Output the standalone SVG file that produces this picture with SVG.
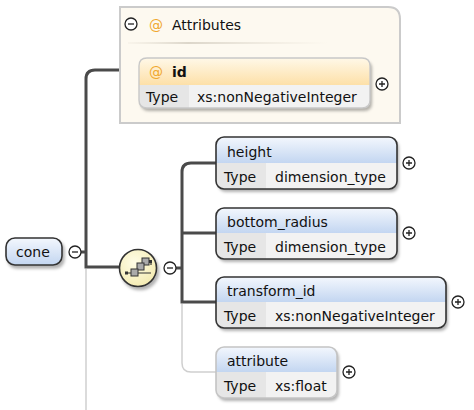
<svg xmlns="http://www.w3.org/2000/svg" width="474" height="410" viewBox="0 0 474 410">
<defs>
<linearGradient id="blue" x1="0" y1="0" x2="0" y2="1"><stop offset="0" stop-color="#f3f7fd"/><stop offset="1" stop-color="#c3d6f1"/></linearGradient>
<linearGradient id="orange" x1="0" y1="0" x2="0" y2="1"><stop offset="0" stop-color="#fff8e8"/><stop offset="1" stop-color="#fde0a8"/></linearGradient>
<linearGradient id="sep" x1="0" y1="0" x2="1" y2="0"><stop offset="0" stop-color="#e6e0d4" stop-opacity="0.2"/><stop offset="0.3" stop-color="#dcd6ca"/><stop offset="1" stop-color="#e6e0d4" stop-opacity="0"/></linearGradient>
<radialGradient id="seqg" cx="0.4" cy="0.35" r="0.7"><stop offset="0" stop-color="#fffde6"/><stop offset="1" stop-color="#f3eab0"/></radialGradient>
<filter id="sh" x="-10%" y="-10%" width="130%" height="140%"><feDropShadow dx="2" dy="3" stdDeviation="1.5" flood-color="#000" flood-opacity="0.3"/></filter>
</defs>
<style>
text{font-family:"DejaVu Sans","Liberation Sans",sans-serif;font-size:14px;fill:#111}
.at{fill:#f0a830}
.tcell{fill:#e6e6e6}
.el{stroke:#333;stroke-width:1.6}
.opt{stroke:#c4c4c4;stroke-width:1.6}
.btn{fill:#fff;stroke:#222;stroke-width:1.3}
.sign{stroke:#222;stroke-width:1.3;fill:none}
.con{fill:none;stroke:#4a4a4a;stroke-width:3}
.thin{fill:none;stroke:#cfcfcf;stroke-width:1.5}
</style>

<g id="connectors">
<path class="con" d="M81,252 H86"/>
<path class="con" d="M119,70 H95 Q86,70 86,79 V267 H120"/>
<path class="thin" d="M86,269 V410"/>
<path class="con" d="M176,268 H182"/>
<path class="con" d="M216,163 H191 Q182,163 182,172 V302 H216"/>
<path class="con" d="M182,233 H216"/>
<path class="thin" d="M182,304 V363 Q182,372 191,372 H216"/>
</g>

<g id="attributes">
<path d="M120,7 H388 Q400,7 400,19 V123 H120 Z" fill="#fdf9f0" stroke="#cbcbcb" stroke-width="2"/>
<circle class="btn" cx="131" cy="24" r="6"/><path class="sign" d="M128,24 H134"/>
<text class="at" x="149" y="30">@</text>
<text x="172" y="30">Attributes</text>
<rect x="128" y="42" width="200" height="2" fill="url(#sep)"/>
</g>

<g id="id">
<g filter="url(#sh)">
<path d="M139,66 Q139,58 147,58 H362 Q370,58 370,66 V100 Q370,108 362,108 H147 Q139,108 139,100 Z" fill="#f2f2f2"/>
</g>
<path d="M139,66 Q139,58 147,58 H362 Q370,58 370,66 V85 H139 Z" fill="url(#orange)"/>
<path d="M139,85 H189 V108 H147 Q139,108 139,100 Z" class="tcell"/>
<path d="M139,66 Q139,58 147,58 H362 Q370,58 370,66 V100 Q370,108 362,108 H147 Q139,108 139,100 Z" fill="none" stroke="#c8c8c8" stroke-width="1.4"/>
<text class="at" x="149" y="77">@</text>
<text x="172" y="77" font-weight="bold">id</text>
<text x="146" y="102">Type</text>
<text x="197" y="102">xs:nonNegativeInteger</text>
<circle class="btn" cx="382" cy="84" r="6"/><path class="sign" d="M379,84 H385 M382,81 V87"/>
</g>

<g id="cone">
<rect x="6" y="238" width="56" height="27" rx="9" fill="url(#blue)" class="el" filter="url(#sh)"/>
<text x="16" y="257">cone</text>
<circle class="btn" cx="75" cy="252" r="6"/><path class="sign" d="M72,252 H78"/>
</g>

<g id="sequence">
<circle cx="138" cy="268" r="18.5" fill="url(#seqg)" stroke="#333" stroke-width="1.6" filter="url(#sh)"/>
<path d="M126,273 H151 M151,263 V265" stroke="#333" stroke-width="1.2" fill="none"/>
<rect x="142" y="258" width="7" height="7" fill="#aaa" stroke="#333" stroke-width="1"/>
<rect x="137" y="263" width="7" height="7" fill="#aaa" stroke="#333" stroke-width="1"/>
<rect x="131" y="269" width="7" height="7" fill="#aaa" stroke="#333" stroke-width="1"/>
<rect x="125" y="271.5" width="3" height="3" fill="#333"/>
<rect x="149" y="260" width="3" height="3" fill="#333"/>
<circle class="btn" cx="170" cy="268" r="6"/><path class="sign" d="M167,268 H173"/>
</g>

<g id="height">
<rect x="216" y="137" width="181" height="52" rx="8" fill="#f2f2f2" filter="url(#sh)"/>
<path d="M216,145 Q216,137 224,137 H389 Q397,137 397,145 V163 H216 Z" fill="url(#blue)"/>
<path d="M216,163 H266 V189 H224 Q216,189 216,181 Z" class="tcell"/>
<rect x="216" y="137" width="181" height="52" rx="8" fill="none" class="el"/>
<text x="227" y="157">height</text>
<text x="224" y="182">Type</text>
<text x="275" y="182">dimension_type</text>
<circle class="btn" cx="409" cy="163" r="6"/><path class="sign" d="M406,163 H412 M409,160 V166"/>
</g>

<g id="bottom_radius">
<rect x="216" y="208" width="181" height="51" rx="8" fill="#f2f2f2" filter="url(#sh)"/>
<path d="M216,216 Q216,208 224,208 H389 Q397,208 397,216 V233 H216 Z" fill="url(#blue)"/>
<path d="M216,233 H266 V259 H224 Q216,259 216,251 Z" class="tcell"/>
<rect x="216" y="208" width="181" height="51" rx="8" fill="none" class="el"/>
<text x="227" y="227">bottom_radius</text>
<text x="224" y="252">Type</text>
<text x="275" y="252">dimension_type</text>
<circle class="btn" cx="409" cy="233" r="6"/><path class="sign" d="M406,233 H412 M409,230 V236"/>
</g>

<g id="transform_id">
<rect x="216" y="277" width="230" height="51" rx="8" fill="#f2f2f2" filter="url(#sh)"/>
<path d="M216,285 Q216,277 224,277 H438 Q446,277 446,285 V302 H216 Z" fill="url(#blue)"/>
<path d="M216,302 H266 V328 H224 Q216,328 216,320 Z" class="tcell"/>
<rect x="216" y="277" width="230" height="51" rx="8" fill="none" class="el"/>
<text x="227" y="296">transform_id</text>
<text x="224" y="321">Type</text>
<text x="275" y="321">xs:nonNegativeInteger</text>
<circle class="btn" cx="458" cy="302" r="6"/><path class="sign" d="M455,302 H461 M458,299 V305"/>
</g>

<g id="attribute">
<rect x="216" y="347" width="121" height="51" rx="8" fill="#f2f2f2" filter="url(#sh)"/>
<path d="M216,355 Q216,347 224,347 H329 Q337,347 337,355 V372 H216 Z" fill="url(#blue)"/>
<path d="M216,372 H266 V398 H224 Q216,398 216,390 Z" class="tcell"/>
<rect x="216" y="347" width="121" height="51" rx="8" fill="none" class="opt"/>
<text x="227" y="366">attribute</text>
<text x="224" y="391">Type</text>
<text x="275" y="391">xs:float</text>
<circle class="btn" cx="349" cy="372" r="6"/><path class="sign" d="M346,372 H352 M349,369 V375"/>
</g>
</svg>
